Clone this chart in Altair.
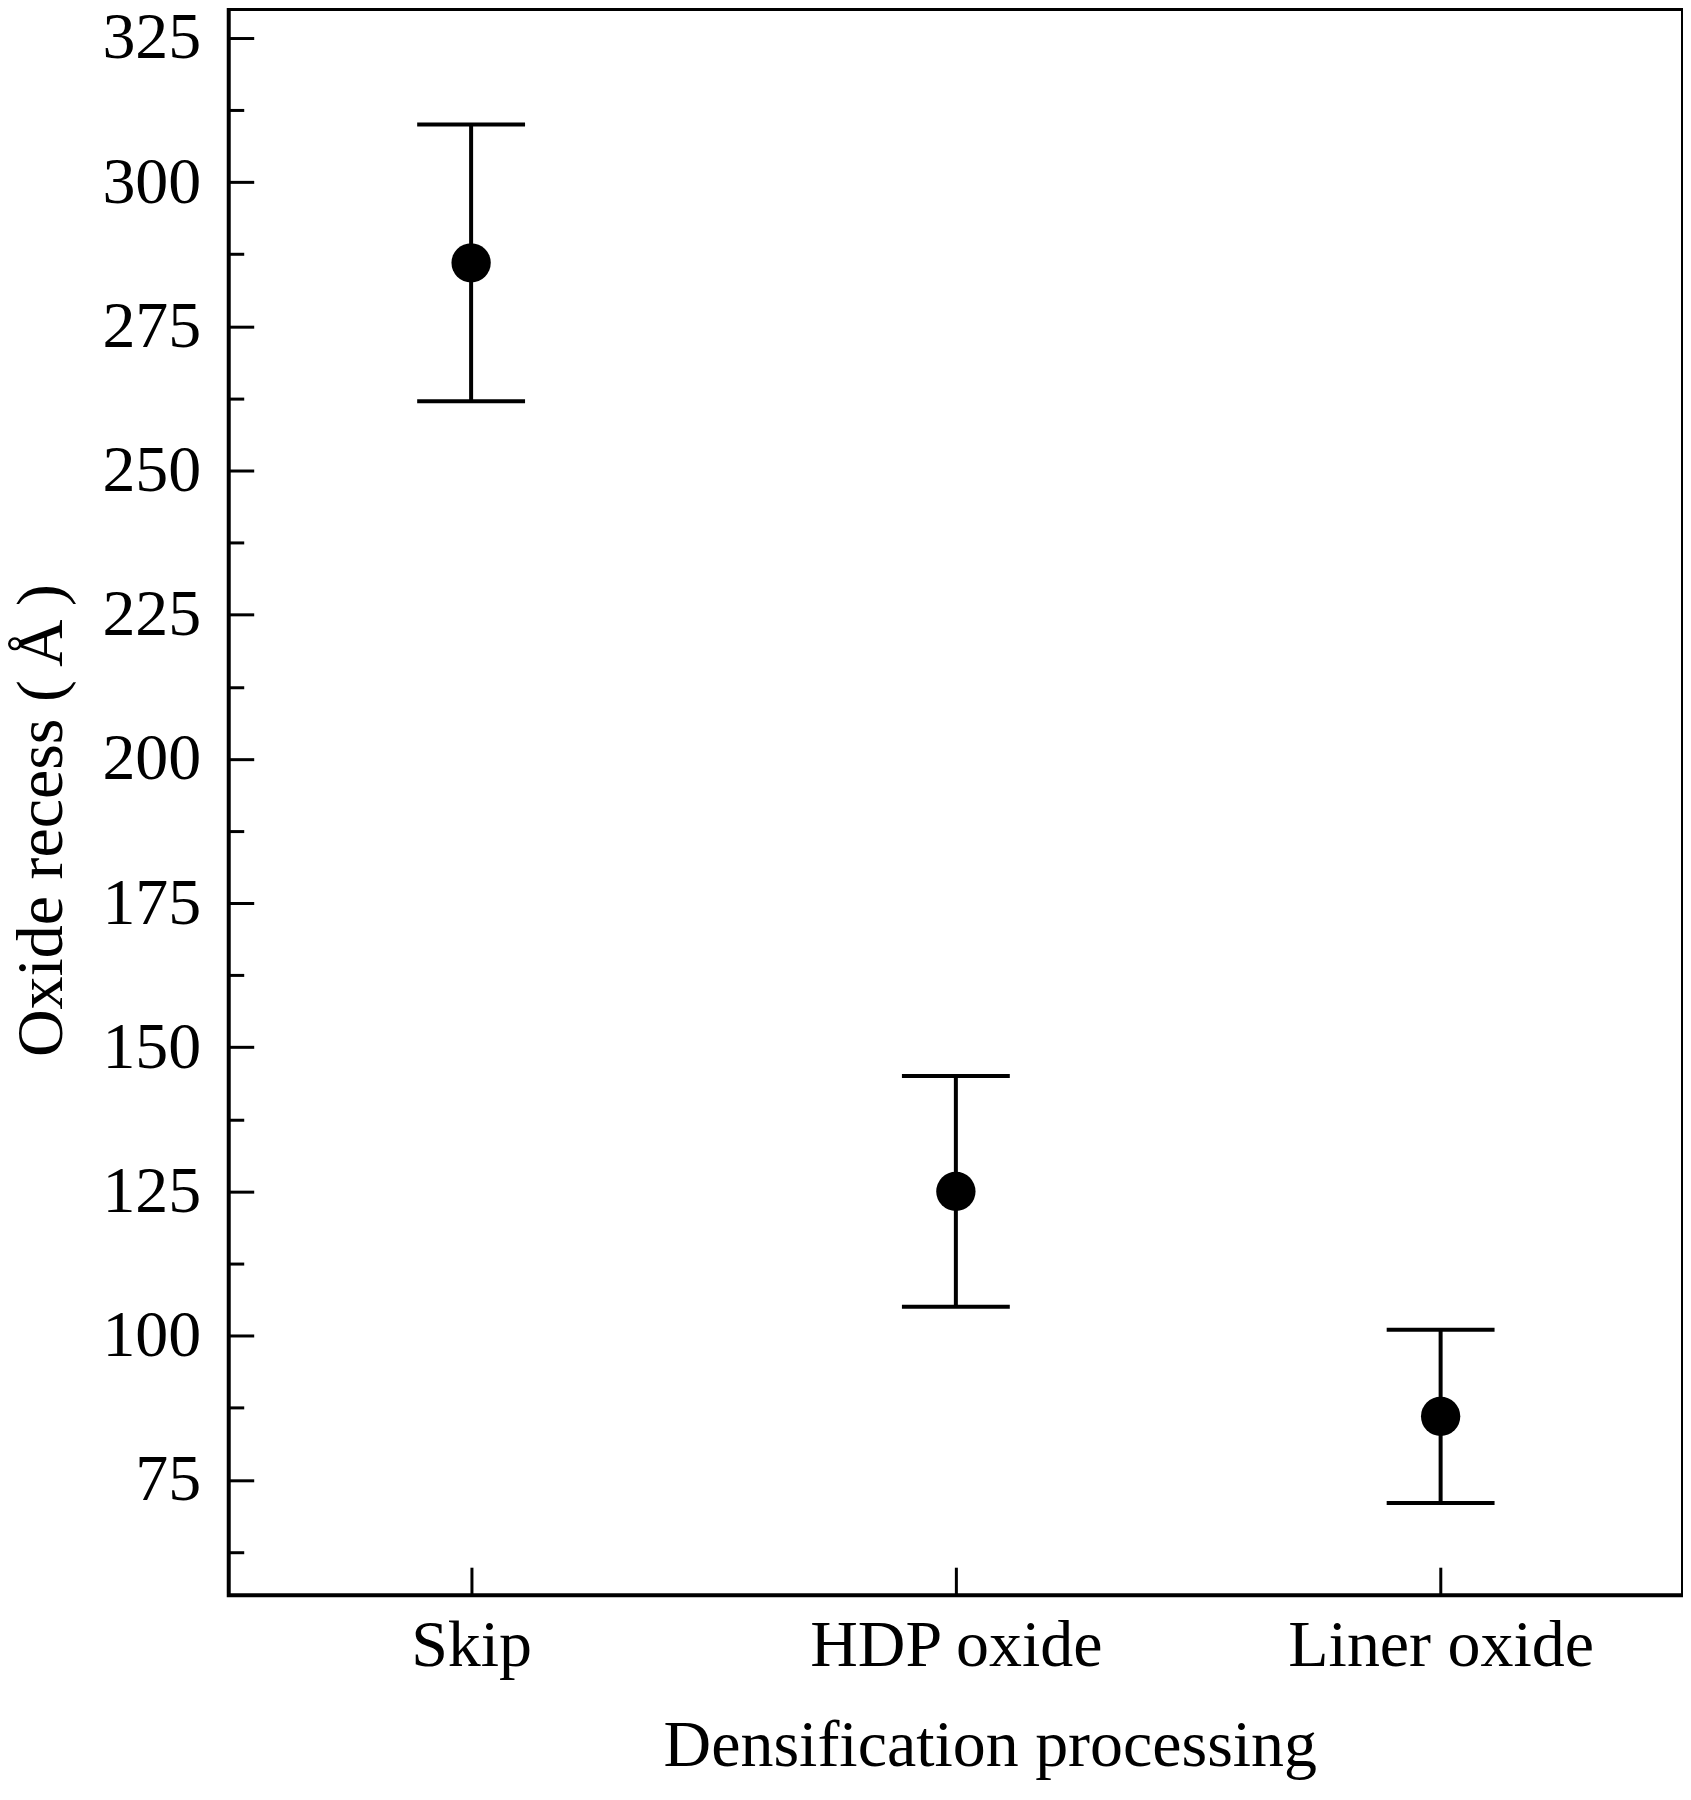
import altair as alt
import pandas as pd

categories = ["Skip", "HDP oxide", "Liner oxide"]
means = [286, 125, 86]
upper = [310, 145, 101]
lower = [262, 105, 71]

major_ticks = [75, 100, 125, 150, 175, 200, 225, 250, 275, 300, 325]
minor_ticks = [62.5, 87.5, 112.5, 137.5, 162.5, 187.5, 212.5, 237.5, 262.5, 287.5, 312.5]
y_domain = [55, 330]

df = pd.DataFrame({"cat": categories, "mean": means, "upper": upper, "lower": lower})

FONT = "Liberation Serif"
FS = 66

xscale = alt.Scale(type="point", domain=categories, padding=0.5)
yscale = alt.Scale(domain=y_domain, nice=False, zero=False)

base = alt.Chart(df)

x_main = alt.X("cat:N", scale=xscale, axis=alt.Axis(
    title="Densification processing", labelAngle=0, ticks=False, domain=False, grid=False,
    tickSize=0, labelFont=FONT, labelFontSize=FS, labelColor="black", labelPadding=18,
    labelLimit=0, orient="bottom",
    titleFont=FONT, titleFontSize=FS, titleFontWeight="normal", titleColor="black",
    titlePadding=36, titleX=762))
y_main = alt.Y("lower:Q", scale=yscale, axis=alt.Axis(
    title="Oxide recess (\u2009Å\u2009)", values=major_ticks, ticks=False, domain=False, grid=False,
    tickSize=0, labelFont=FONT, labelFontSize=FS, labelColor="black", labelPadding=28,
    labelLimit=0, orient="left",
    titleFont=FONT, titleFontSize=FS, titleFontWeight="normal", titleColor="black",
    titlePadding=26, titleY=812))

rules = base.mark_rule(color="black", strokeWidth=4, opacity=1).encode(
    x=x_main, y=y_main, y2="upper:Q")

caps_top = base.mark_tick(color="black", size=108, thickness=4, opacity=1).encode(
    x=alt.X("cat:N", scale=xscale, axis=None),
    y=alt.Y("upper:Q", scale=yscale, axis=None))
caps_bot = base.mark_tick(color="black", size=108, thickness=4, opacity=1).encode(
    x=alt.X("cat:N", scale=xscale, axis=None),
    y=alt.Y("lower:Q", scale=yscale, axis=None))
points = base.mark_point(filled=True, shape="circle", size=1550, color="black", opacity=1).encode(
    x=alt.X("cat:N", scale=xscale, axis=None),
    y=alt.Y("mean:Q", scale=yscale, axis=None))

major_layer = base.mark_point(opacity=0).encode(
    x=alt.X("cat:N", scale=xscale, axis=alt.Axis(
        title=None, labels=False, domain=False, grid=False, ticks=True, orient="bottom",
        tickSize=28, tickWidth=3, tickColor="black", offset=-28)),
    y=alt.Y("mean:Q", scale=yscale, axis=alt.Axis(
        title=None, labels=False, domain=False, grid=False, ticks=True, values=major_ticks,
        tickSize=25, tickWidth=3, tickColor="black", offset=-25, orient="left")))
minor_layer = base.mark_point(opacity=0).encode(
    x=alt.X("cat:N", scale=xscale, axis=None),
    y=alt.Y("mean:Q", scale=yscale, axis=alt.Axis(
        title=None, labels=False, domain=False, grid=False, ticks=True, values=minor_ticks,
        tickSize=15, tickWidth=3, tickColor="black", offset=-15, orient="left")))

chart = alt.layer(rules, caps_top, caps_bot, points, major_layer, minor_layer).resolve_scale(
    x="independent", y="independent"
).properties(
    width=1456, height=1588,
    autosize=alt.AutoSizeParams(type="none"),
    padding={"left": 221, "top": 0, "right": 0, "bottom": 196},
    background="white",
).configure_view(stroke="black", strokeWidth=4)

chart.save("out.html", embed_options={"renderer": "svg", "actions": False})
